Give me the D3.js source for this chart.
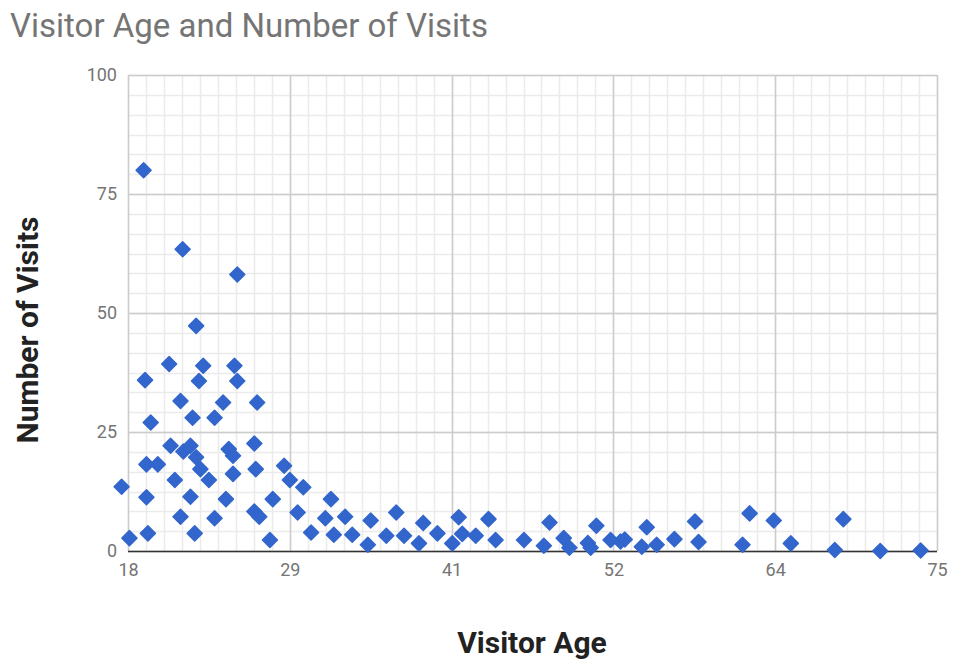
<!DOCTYPE html>
<html>
<head>
<meta charset="utf-8">
<script src="https://cdn.jsdelivr.net/npm/d3@7"></script>
<style>
  html, body { margin: 0; padding: 0; background: #fff; }
  svg { display: block; }
  text { font-family: Roboto, "Noto Sans", sans-serif; }
</style>
</head>
<body>
<svg id="chart" width="964" height="671"></svg>
<script>
const title = "Visitor Age and Number of Visits";
const xTitle = "Visitor Age";
const yTitle = "Number of Visits";

const ages = [17.55, 18.1, 19.1, 19.2, 19.3, 19.3, 19.4, 19.6, 20.1, 20.9,
  21.0, 21.3, 21.7, 21.7, 21.85, 21.9, 22.4, 22.4, 22.55, 22.7,
  22.8, 22.8, 23.0, 23.1, 23.3, 23.7, 24.1, 24.1, 24.7, 24.9,
  25.1, 25.4, 25.4, 25.5, 25.7, 25.7, 26.9, 27.0, 26.9, 27.25,
  27.1, 28.0, 28.2, 29.0, 29.4, 30.35, 29.95, 30.9, 31.9, 32.3,
  32.5, 33.3, 33.8, 34.9, 35.1, 36.2, 36.9, 37.45, 38.5, 38.8,
  39.8, 40.85, 41.3, 41.55, 42.5, 43.4, 43.9, 45.9, 47.3, 47.7,
  48.7, 49.1, 50.4, 50.6, 51.0, 52.0, 52.7, 53.0, 54.2, 54.55,
  55.25, 56.5, 57.95, 58.2, 61.3, 61.8, 63.5, 64.7, 67.8, 68.4,
  71.0, 73.85];
const visits = [13.5, 2.7, 80.0, 35.9, 18.2, 11.3, 3.7, 27.0, 18.2, 39.3,
  22.1, 14.9, 31.5, 7.2, 63.4, 20.9, 22.1, 11.4, 28.0, 3.7,
  47.3, 19.7, 35.7, 17.2, 38.9, 14.9, 28.0, 6.9, 31.2, 10.9,
  21.4, 20.0, 16.2, 38.9, 35.7, 58.1, 22.6, 17.2, 8.3, 7.2,
  31.2, 2.3, 10.9, 17.9, 14.9, 13.4, 8.1, 3.9, 6.9, 10.9,
  3.4, 7.2, 3.4, 1.3, 6.4, 3.2, 8.1, 3.2, 1.6, 5.9,
  3.7, 1.6, 7.1, 3.6, 3.2, 6.7, 2.3, 2.3, 1.1, 6.0,
  2.7, 0.7, 1.7, 0.7, 5.3, 2.3, 2.0, 2.4, 0.9, 5.0,
  1.3, 2.5, 6.2, 1.9, 1.3, 7.9, 6.4, 1.6, 0.2, 6.7,
  0.0, 0.1];

const xTicks = [18, 29, 41, 52, 64, 75];
const xTickValues = [18, 29.4, 40.8, 52.2, 63.6, 75];
const yTicks = [0, 25, 50, 75, 100];

const svg = d3.select("#chart");
const pLeft = 128, pRight = 937, pTop = 75, pBottom = 551;

const x = d3.scaleLinear().domain([18, 75]).range([pLeft, pRight]);
const y = d3.scaleLinear().domain([0, 100]).range([pBottom, pTop]);

// minor grid
const xMinorStep = 57 / 45;
const xMinor = d3.range(0, 46).map(i => 18 + i * xMinorStep);
const yMinor = d3.range(0, 25).map(i => i * 100 / 24);

const g = svg.append("g");
g.selectAll(".xminor").data(xMinor).enter().append("line")
  .attr("x1", d => Math.round(x(d)) + 0.5).attr("x2", d => Math.round(x(d)) + 0.5)
  .attr("y1", pTop).attr("y2", pBottom)
  .attr("stroke", "#ebebeb").attr("stroke-width", 1.5);
g.selectAll(".yminor").data(yMinor).enter().append("line")
  .attr("y1", d => Math.round(y(d)) + 0.5).attr("y2", d => Math.round(y(d)) + 0.5)
  .attr("x1", pLeft).attr("x2", pRight)
  .attr("stroke", "#ebebeb").attr("stroke-width", 1.5);
// major grid
g.selectAll(".xmajor").data(xTickValues).enter().append("line")
  .attr("x1", d => Math.round(x(d)) + 0.5).attr("x2", d => Math.round(x(d)) + 0.5)
  .attr("y1", pTop).attr("y2", pBottom)
  .attr("stroke", "#cccccc").attr("stroke-width", 1.5);
g.selectAll(".ymajor").data(yTicks).enter().append("line")
  .attr("y1", d => Math.round(y(d)) + 0.5).attr("y2", d => Math.round(y(d)) + 0.5)
  .attr("x1", pLeft).attr("x2", pRight)
  .attr("stroke", "#cccccc").attr("stroke-width", 1.5);

// baseline
g.append("line")
  .attr("x1", pLeft).attr("x2", pRight)
  .attr("y1", y(0) + 0.5).attr("y2", y(0) + 0.5)
  .attr("stroke", "#333333").attr("stroke-width", 1.5);

// axis labels
const xAxis = d3.axisBottom(x).tickValues(xTickValues)
  .tickFormat((d, i) => xTicks[i]).tickSize(0).tickPadding(12);
const xa = svg.append("g").attr("transform", `translate(0,${pBottom})`).call(xAxis);
xa.select(".domain").remove();
xa.selectAll("text").attr("fill", "#757575").style("font-size", "18px")
  .style("font-family", "Roboto, sans-serif");

const yAxis = d3.axisLeft(y).tickValues(yTicks).tickSize(0).tickPadding(11);
const ya = svg.append("g").attr("transform", `translate(${pLeft},0)`).call(yAxis);
ya.select(".domain").remove();
ya.selectAll("text").attr("fill", "#757575").style("font-size", "18px")
  .style("font-family", "Roboto, sans-serif");

// points
const pts = ages.map((a, i) => ({ a, v: visits[i] }));
const r = 7.5;
svg.append("g").selectAll("path").data(pts).enter().append("path")
  .attr("d", `M0,${-r}L${r},0L0,${r}L${-r},0Z`)
  .attr("transform", d => `translate(${x(d.a)},${y(d.v)})`)
  .attr("fill", "#3366cc")
  .attr("stroke", "#3366cc").attr("stroke-width", 1.5).attr("stroke-linejoin", "round");

// titles
svg.append("text").attr("x", 10).attr("y", 37)
  .attr("fill", "#757575").style("font-size", "33px").text(title);

svg.append("text").attr("x", 532).attr("y", 653).attr("text-anchor", "middle")
  .attr("fill", "#222222").style("font-size", "30px").style("font-weight", "bold").text(xTitle);

svg.append("text").attr("transform", "translate(38,330) rotate(-90)").attr("text-anchor", "middle")
  .attr("fill", "#222222").style("font-size", "30px").style("font-weight", "bold").text(yTitle);
</script>
</body>
</html>
